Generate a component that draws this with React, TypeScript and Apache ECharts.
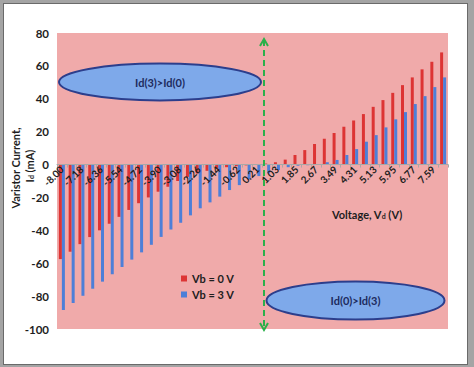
import React, { useEffect, useRef } from "react";
import * as echarts from "echarts";

const categories = [
  "-8.00", "-7.59", "-7.18", "-6.77", "-6.36", "-5.95", "-5.54", "-5.13", "-4.72", "-4.31",
  "-3.90", "-3.49", "-3.08", "-2.67", "-2.26", "-1.85", "-1.44", "-1.03", "-0.62", "-0.21",
  "0.21", "0.62", "1.03", "1.44", "1.85", "2.26", "2.67", "3.08", "3.49", "3.90",
  "4.31", "4.72", "5.13", "5.54", "5.95", "6.36", "6.77", "7.18", "7.59", "8.00",
];

const vb0 = [
  -57.5, -53.0, -48.4, -44.1, -40.0, -36.0, -31.8, -27.6, -23.5, -20.0,
  -16.5, -13.5, -10.0, -7.5, -5.5, -3.8, -2.5, -1.6, -1.0, -0.5,
  0.2, 0.6, 1.4, 3.0, 5.8, 8.8, 12.5, 15.7, 19.2, 23.0,
  26.8, 30.7, 35.1, 39.2, 43.6, 48.3, 53.0, 57.9, 62.5, 68.2,
];

const vb3 = [
  -88.5, -84.2, -79.8, -75.5, -71.2, -66.7, -62.3, -57.8, -53.4, -48.8,
  -44.0, -39.5, -35.4, -30.9, -26.6, -23.0, -19.5, -15.5, -12.5, -9.0,
  -7.0, -5.3, -3.3, -1.6, -0.7, -0.4, 0.3, 1.4, 2.8, 5.8,
  9.4, 13.9, 17.9, 22.6, 27.5, 31.9, 36.8, 41.6, 47.1, 53.0,
];

const seriesNames = ["Vb = 0 V", "Vb = 3 V"];
const yMin = -100;
const yMax = 80;
const yStep = 20;

const FONT = "Lato, 'Open Sans', sans-serif";
const TXT = "#1e1e1e";

const GRID_TOP = 33;
const GRID_BOTTOM = 38;
const CH_H = 367;

export default function App() {
  const ref = useRef<HTMLDivElement>(null);

  useEffect(() => {
    if (!ref.current) return;
    const chart = echarts.init(ref.current, undefined, { renderer: "svg" });
    const arrowX = 264;
    const green = "#2bb04a";
    const ellFill = "#7ea9ea";
    const ellStroke = "#2c3e8c";
    const plotH = CH_H - GRID_TOP - GRID_BOTTOM;
    const zeroFromBottom = ((0 - yMin) / (yMax - yMin)) * plotH;
    chart.setOption({
      animation: false,
      backgroundColor: "transparent",
      textStyle: { fontFamily: FONT },
      grid: {
        left: 57,
        right: 26,
        top: GRID_TOP,
        bottom: GRID_BOTTOM,
        show: true,
        backgroundColor: "#f0aaaa",
        borderWidth: 0,
      },
      legend: {
        orient: "vertical",
        left: 176,
        top: 268,
        icon: "rect",
        itemWidth: 6,
        itemHeight: 6,
        itemGap: 5,
        textStyle: { fontFamily: FONT, fontWeight: "bold", fontSize: 11, color: TXT },
        data: seriesNames,
      },
      xAxis: {
        type: "category",
        data: categories,
        position: "bottom",
        offset: -zeroFromBottom,
        z: 10,
        axisLine: { onZero: false, lineStyle: { color: "#a8a8a8", width: 1 } },
        axisTick: { show: true, interval: 0, length: 3, lineStyle: { color: "#a8a8a8" } },
        axisLabel: {
          interval: 1,
          rotate: 45,
          margin: 3,
          fontSize: 10,
          fontWeight: "bold",
          fontFamily: FONT,
          color: TXT,
        },
        splitLine: { show: false },
      },
      yAxis: {
        type: "value",
        min: yMin,
        max: yMax,
        interval: yStep,
        axisLine: { show: false },
        axisTick: { show: false },
        splitLine: { show: false },
        axisLabel: {
          margin: 8,
          fontSize: 11.5,
          fontWeight: "bold",
          fontFamily: FONT,
          color: TXT,
        },
      },
      series: [
        {
          name: seriesNames[0],
          type: "bar",
          data: vb0,
          barWidth: 3,
          barGap: "0%",
          itemStyle: { color: "#dd3434" },
        },
        {
          name: seriesNames[1],
          type: "bar",
          data: vb3,
          barWidth: 3,
          barGap: "0%",
          itemStyle: { color: "#4d7fd8" },
        },
      ],
      graphic: [
        {
          type: "line",
          z: 100,
          shape: { x1: arrowX, y1: 40, x2: arrowX, y2: 329 },
          style: { stroke: green, lineWidth: 2, lineDash: [6, 4] },
        },
        {
          type: "polyline",
          z: 100,
          shape: { points: [[arrowX - 4, 46], [arrowX, 39], [arrowX + 4, 46]] },
          style: { stroke: green, lineWidth: 2, fill: null },
        },
        {
          type: "polyline",
          z: 100,
          shape: { points: [[arrowX - 4, 323], [arrowX, 330], [arrowX + 4, 323]] },
          style: { stroke: green, lineWidth: 2, fill: null },
        },
        {
          type: "ellipse",
          z: 101,
          shape: { cx: 160, cy: 82, rx: 101, ry: 18.5 },
          style: { fill: ellFill, stroke: ellStroke, lineWidth: 2 },
        },
        {
          type: "text",
          z: 102,
          x: 160,
          y: 82,
          style: {
            text: "Id(3)>Id(0)",
            fill: "#1d2b5e",
            font: `bold 11px ${FONT}`,
            textAlign: "center",
            textVerticalAlign: "middle",
          },
        },
        {
          type: "ellipse",
          z: 101,
          shape: { cx: 355.5, cy: 300.5, rx: 89, ry: 19 },
          style: { fill: ellFill, stroke: ellStroke, lineWidth: 2 },
        },
        {
          type: "text",
          z: 102,
          x: 355.5,
          y: 300.5,
          style: {
            text: "Id(0)>Id(3)",
            fill: "#1d2b5e",
            font: `bold 11px ${FONT}`,
            textAlign: "center",
            textVerticalAlign: "middle",
          },
        },
        {
          type: "text",
          x: 15,
          y: 168,
          rotation: Math.PI / 2,
          style: {
            text: "Varistor Current,",
            fill: TXT,
            font: `bold 11px ${FONT}`,
            textAlign: "center",
            textVerticalAlign: "middle",
          },
        },
        {
          type: "text",
          x: 29,
          y: 166,
          rotation: Math.PI / 2,
          style: {
            text: "{n|I}{s|d}{n| (mA)}",
            textAlign: "center",
            textVerticalAlign: "middle",
            rich: {
              n: { fill: TXT, font: `bold 11px ${FONT}` },
              s: { fill: TXT, font: `bold 7px ${FONT}`, padding: [4, 0, 0, 0] },
            },
          },
        },
        {
          type: "text",
          x: 367,
          y: 214,
          style: {
            text: "{n|Voltage, V}{s|d}{n| (V)}",
            textAlign: "center",
            textVerticalAlign: "middle",
            rich: {
              n: { fill: TXT, font: `bold 11px ${FONT}` },
              s: { fill: TXT, font: `bold 7px ${FONT}`, padding: [4, 0, 0, 0] },
            },
          },
        },
      ],
    });
    return () => chart.dispose();
  }, []);

  return (
    <div style={{ position: "absolute", left: 0, top: 0, width: 474, height: 367, background: "#a4a4a4" }}>
      <div
        style={{
          position: "absolute",
          left: 3,
          top: 3,
          width: 463,
          height: 360,
          background: "#ffffff",
          border: "1px solid #6a6a6a",
        }}
      />
      <div ref={ref} style={{ position: "absolute", left: 0, top: 0, width: 474, height: 367 }} />
    </div>
  );
}
